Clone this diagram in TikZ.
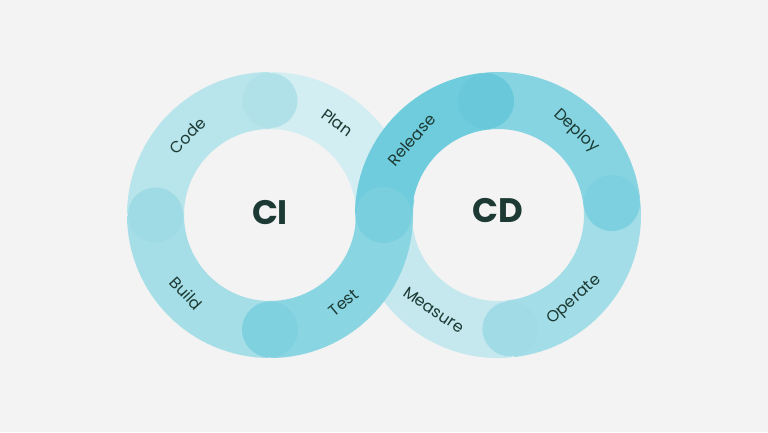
\documentclass[tikz,border=0pt]{standalone}
\usepackage{fontspec}
\setmainfont{Poppins}
\begin{document}
\begin{tikzpicture}[x=1pt,y=1pt,
  seg/.style={line width=57pt},
  lbl/.style={text=txt,font=\fontsize{16}{16}\selectfont},
  big/.style={text=txt,font=\fontsize{34}{34}\selectfont\bfseries},
  joint/.style={fill=#1}]
\definecolor{bg}{HTML}{F3F3F3}
\definecolor{txt}{HTML}{1C3A33}
\definecolor{cPlan}{HTML}{D3EEF2}
\definecolor{cCode}{HTML}{B8E4EB}
\definecolor{cBuild}{HTML}{A6DEE7}
\definecolor{cTest}{HTML}{8AD5E2}
\definecolor{cRel}{HTML}{6FCCDD}
\definecolor{cDep}{HTML}{86D4E2}
\definecolor{cOp}{HTML}{A3DDE7}
\definecolor{cMeas}{HTML}{C4E8EE}
\definecolor{j1}{HTML}{B0E1E9}
\definecolor{j2}{HTML}{9FDBE5}
\definecolor{j3}{HTML}{80D1E0}
\definecolor{j4}{HTML}{69C9DB}
\definecolor{j5}{HTML}{7CD0E0}
\definecolor{j6}{HTML}{A0DBE6}
\definecolor{j7}{HTML}{7ACFDF}
\fill[bg] (0,0) rectangle (768,432);
\useasboundingbox (0,0) rectangle (768,432);
\def\r{114.5}
\coordinate (L) at (270,217);
\coordinate (R) at (498,217);
% under parts
\draw[seg,cPlan] ([shift={(90:\r)}]L) arc (90:-40:\r);
\draw[seg,cMeas] ([shift={(276:\r)}]R) arc (276:140:\r);
\draw[seg,cCode] ([shift={(90:\r)}]L) arc (90:180:\r);
\draw[seg,cBuild] ([shift={(180:\r)}]L) arc (180:270:\r);
\draw[seg,cDep] ([shift={(96:\r)}]R) arc (96:6:\r);
\draw[seg,cOp] ([shift={(6:\r)}]R) arc (6:-84:\r);
% over parts (S)
\draw[seg,cTest] ([shift={(270:\r)}]L) arc (270:360:\r) arc (180:170:\r);
\draw[seg,cRel] ([shift={(180:\r)}]R) arc (180:96:\r);
% joints
\fill[joint=j1] ([shift={(90:\r)}]L) circle (27.5);
\fill[joint=j2] ([shift={(180:\r)}]L) circle (27.5);
\fill[joint=j3] ([shift={(270:\r)}]L) circle (28);
\fill[joint=j4] ([shift={(96:\r)}]R) circle (28);
\fill[joint=j5] ([shift={(6:\r)}]R) circle (28);
\fill[joint=j6] ([shift={(276:\r)}]R) circle (27.5);
\fill[joint=j7] ([shift={(180:\r)}]R) circle (28);
% labels
\node[lbl,rotate=46] (code) at ([shift={(136:\r)}]L) {Code};
\node[lbl,rotate=-36] (plan) at ([shift={(54:\r)}]L) {Plan};
\node[lbl,rotate=-47] (build) at ([shift={(223:\r)}]L) {Build};
\node[lbl,rotate=40] (test) at ([shift={(-50:\r)}]L) {Test};
\node[lbl,rotate=49] (rel) at ([shift={(139:\r)}]R) {Release};
\node[lbl,rotate=-43] (dep) at ([shift={(47:\r)}]R) {Deploy};
\node[lbl,rotate=42] (op) at ([shift={(-48:\r)}]R) {Operate};
\node[lbl,rotate=-34] (meas) at ([shift={(236:\r)}]R) {Measure};
\node[big] (ci) at (270,219) {CI};
\node[big] (cd) at (498,221) {CD};
\end{tikzpicture}
\end{document}
